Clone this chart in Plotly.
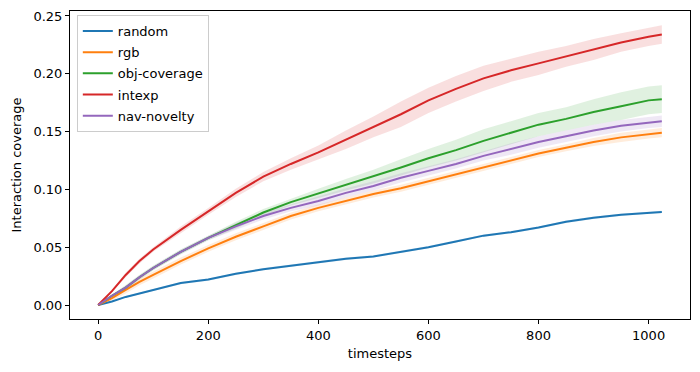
import plotly.graph_objects as go

timesteps = [0, 25, 50, 75, 100, 150, 200, 250, 300, 350, 400, 450, 500, 550, 600, 650, 700, 750, 800, 850, 900, 950, 1000, 1024]

random_mean = [0, 0.003, 0.007, 0.010, 0.013, 0.019, 0.022, 0.027, 0.031, 0.034, 0.037, 0.040, 0.042, 0.046, 0.050, 0.055, 0.060, 0.063, 0.067, 0.072, 0.0755, 0.078, 0.080, 0.0805]
rgb_mean = [0, 0.006, 0.013, 0.020, 0.026, 0.038, 0.049, 0.059, 0.068, 0.077, 0.084, 0.090, 0.096, 0.101, 0.107, 0.113, 0.119, 0.125, 0.131, 0.136, 0.141, 0.145, 0.148, 0.149]
obj_mean = [0, 0.008, 0.015, 0.024, 0.032, 0.046, 0.058, 0.069, 0.080, 0.089, 0.0965, 0.104, 0.111, 0.119, 0.127, 0.134, 0.142, 0.149, 0.156, 0.161, 0.167, 0.172, 0.177, 0.178]
intexp_mean = [0, 0.012, 0.026, 0.038, 0.048, 0.065, 0.081, 0.097, 0.111, 0.122, 0.132, 0.143, 0.154, 0.165, 0.177, 0.187, 0.196, 0.203, 0.209, 0.215, 0.221, 0.227, 0.232, 0.234]
nav_mean = [0, 0.008, 0.015, 0.024, 0.032, 0.046, 0.058, 0.068, 0.077, 0.084, 0.090, 0.097, 0.103, 0.110, 0.116, 0.122, 0.129, 0.135, 0.141, 0.146, 0.151, 0.155, 0.158, 0.159]

random_err = [0, 0.0005, 0.0008, 0.001, 0.001, 0.001, 0.001, 0.001, 0.001, 0.001, 0.001, 0.001, 0.001, 0.001, 0.001, 0.001, 0.001, 0.001, 0.001, 0.001, 0.001, 0.001, 0.001, 0.001]
rgb_err = [0, 0.002, 0.003, 0.003, 0.003, 0.003, 0.003, 0.003, 0.003, 0.003, 0.003, 0.003, 0.003, 0.003, 0.003, 0.003, 0.003, 0.003, 0.003, 0.003, 0.0035, 0.004, 0.004, 0.004]
obj_err = [0, 0.001, 0.002, 0.002, 0.002, 0.002, 0.002, 0.003, 0.003, 0.003, 0.004, 0.005, 0.006, 0.007, 0.008, 0.009, 0.010, 0.010, 0.010, 0.010, 0.011, 0.012, 0.012, 0.012]
intexp_err = [0, 0.001, 0.002, 0.002, 0.002, 0.003, 0.003, 0.0035, 0.004, 0.005, 0.006, 0.008, 0.009, 0.011, 0.011, 0.011, 0.011, 0.010, 0.010, 0.009, 0.009, 0.008, 0.008, 0.008]
nav_err = [0, 0.001, 0.002, 0.002, 0.002, 0.002, 0.002, 0.003, 0.003, 0.003, 0.004, 0.004, 0.004, 0.004, 0.004, 0.004, 0.004, 0.005, 0.005, 0.005, 0.005, 0.005, 0.005, 0.005]

series_names = ["random", "rgb", "obj-coverage", "intexp", "nav-novelty"]
series_means = [random_mean, rgb_mean, obj_mean, intexp_mean, nav_mean]
series_errs = [random_err, rgb_err, obj_err, intexp_err, nav_err]
colors = ["#1f77b4", "#ff7f0e", "#2ca02c", "#d62728", "#9467bd"]
fills = ["rgba(31,119,180,0.15)", "rgba(255,127,14,0.15)", "rgba(44,160,44,0.15)", "rgba(214,39,40,0.15)", "rgba(148,103,189,0.15)"]

fig = go.Figure()
for name, m, e, c, f in zip(series_names, series_means, series_errs, colors, fills):
    upper = [a + b for a, b in zip(m, e)]
    lower = [a - b for a, b in zip(m, e)]
    fig.add_trace(go.Scatter(
        x=timesteps + timesteps[::-1], y=upper + lower[::-1],
        fill="toself", fillcolor=f, line=dict(width=0), mode="lines",
        showlegend=False, hoverinfo="skip"))
for name, m, c in zip(series_names, series_means, colors):
    fig.add_trace(go.Scatter(x=timesteps, y=m, mode="lines", name=name, legendgroup=name,
                             line=dict(color=c, width=2)))

font = "DejaVu Sans"
fig.update_layout(
    width=692, height=364,
    margin=dict(l=62, r=10, t=3, b=53),
    paper_bgcolor="white", plot_bgcolor="white",
    font=dict(family=font, size=13, color="black"),
    legend=dict(x=0.011, y=0.987, xanchor="left", yanchor="top",
                bgcolor="rgba(255,255,255,0.8)", bordercolor="#cccccc", borderwidth=1,
                font=dict(size=13), tracegroupgap=1.3),
    xaxis=dict(range=[-51.2, 1075.2], tickvals=[0, 200, 400, 600, 800, 1000],
               showgrid=False, zeroline=False, showline=True, linecolor="black", linewidth=1,
               mirror=True, ticks="outside", ticklen=4, tickcolor="black", automargin=False,
               title=dict(text="timesteps", standoff=7, font=dict(size=13))),
    yaxis=dict(range=[-0.0121, 0.2543], tickvals=[0, 0.05, 0.10, 0.15, 0.20, 0.25],
               tickformat=".2f",
               showgrid=False, zeroline=False, showline=True, linecolor="black", linewidth=1,
               mirror=True, ticks="outside", ticklen=4, tickcolor="black", automargin=False,
               title=dict(text="Interaction coverage", standoff=8, font=dict(size=13))),
)
fig.write_html("out.html")
